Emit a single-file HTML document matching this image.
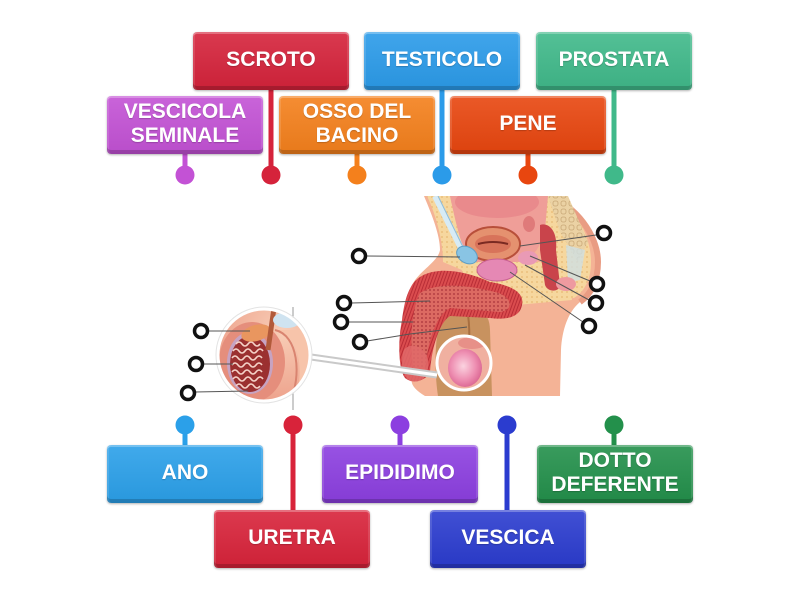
<!DOCTYPE html>
<html><head><meta charset="utf-8">
<style>
html,body{margin:0;padding:0;background:#fff;}
#c{position:relative;width:800px;height:600px;overflow:hidden;background:#fff;}
svg{position:absolute;left:0;top:0;}
.b{position:absolute;width:156px;height:58px;border-radius:4px;color:#fff;
font-family:"Liberation Sans",sans-serif;font-weight:bold;font-size:21px;line-height:24px;
display:flex;align-items:center;justify-content:center;text-align:center;box-sizing:border-box;padding-bottom:3px;
background-image:linear-gradient(rgba(255,255,255,.10),rgba(0,0,0,.05));
box-shadow:inset 0 -4px 0 rgba(0,0,0,.18),inset 0 2px 0 rgba(255,255,255,.28),inset 2px 0 0 rgba(255,255,255,.12),inset -2px 0 0 rgba(255,255,255,.12),0 1px 2px rgba(0,0,0,.3);
text-shadow:0 1px 1px rgba(0,0,0,.2);}
</style></head><body><div id="c">
<svg width="800" height="600" viewBox="0 0 800 600">
<defs>
<pattern id="fat" width="5" height="5" patternUnits="userSpaceOnUse"><rect width="5" height="5" fill="#f6d79e"/><circle cx="2" cy="2" r="0.9" fill="#e7b873"/></pattern>
<pattern id="spg" width="4" height="4" patternUnits="userSpaceOnUse"><rect width="4" height="4" fill="#dc6a62"/><circle cx="2" cy="2" r="0.9" fill="#a8323a"/></pattern>
<pattern id="str" width="3" height="6" patternUnits="userSpaceOnUse" patternTransform="rotate(20)"><rect width="3" height="6" fill="#da4c4e"/><rect width="1" height="6" fill="#b82d36"/></pattern>
<pattern id="spn" width="8" height="8" patternUnits="userSpaceOnUse"><rect width="8" height="8" fill="#ebd2a4"/><rect x="1" y="1" width="5" height="5" rx="2" fill="none" stroke="#c9a877" stroke-width="0.8"/></pattern>
<radialGradient id="tg" cx="45%" cy="45%" r="60%"><stop offset="0" stop-color="#fbd3e0"/><stop offset="0.6" stop-color="#ee8fb2"/><stop offset="1" stop-color="#d9628f"/></radialGradient>
<radialGradient id="ig" cx="70%" cy="25%" r="80%"><stop offset="0" stop-color="#f8cdb6"/><stop offset="1" stop-color="#eda08a"/></radialGradient>
<clipPath id="bc"><rect x="395" y="196" width="230" height="200"/></clipPath>
<clipPath id="icp"><circle cx="264" cy="355" r="46"/></clipPath>
<clipPath id="tcp"><circle cx="464" cy="363" r="27"/></clipPath>
</defs>

<!-- stems top -->
<g stroke-width="5">
<line x1="271" y1="88" x2="271" y2="175" stroke="#d5233b"/>
<line x1="442" y1="88" x2="442" y2="175" stroke="#2b9be9"/>
<line x1="614" y1="88" x2="614" y2="175" stroke="#40b98a"/>
<line x1="185" y1="152" x2="185" y2="175" stroke="#c352d5"/>
<line x1="357" y1="152" x2="357" y2="175" stroke="#f4801c"/>
<line x1="528" y1="152" x2="528" y2="175" stroke="#e8460f"/>
<line x1="185" y1="425" x2="185" y2="447" stroke="#2ba0e9"/>
<line x1="293" y1="425" x2="293" y2="512" stroke="#d8233a"/>
<line x1="400" y1="425" x2="400" y2="447" stroke="#8c3fe0"/>
<line x1="507" y1="425" x2="507" y2="512" stroke="#2b3ccf"/>
<line x1="614" y1="425" x2="614" y2="447" stroke="#23904b"/>
</g>
<g>
<circle cx="185" cy="175" r="9.5" fill="#c352d5"/>
<circle cx="271" cy="175" r="9.5" fill="#d5233b"/>
<circle cx="357" cy="175" r="9.5" fill="#f4801c"/>
<circle cx="442" cy="175" r="9.5" fill="#2b9be9"/>
<circle cx="528" cy="175" r="9.5" fill="#e8460f"/>
<circle cx="614" cy="175" r="9.5" fill="#40b98a"/>
<circle cx="185" cy="425" r="9.5" fill="#2ba0e9"/>
<circle cx="293" cy="425" r="9.5" fill="#d8233a"/>
<circle cx="400" cy="425" r="9.5" fill="#8c3fe0"/>
<circle cx="507" cy="425" r="9.5" fill="#2b3ccf"/>
<circle cx="614" cy="425" r="9.5" fill="#23904b"/>
</g>

<!-- body -->
<g clip-path="url(#bc)">
<path d="M424,196 L548,196 C575,205 598,235 598,262 C598,282 590,295 580,302 C568,312 562,330 561,350 L560,396 L425,396 C415,390 410,384 412,378 C402,372 399,360 402,345 C403,320 405,300 412,285 C420,270 438,262 440,250 C440,235 432,215 424,196 Z" fill="#f4b396"/>
<path d="M548,196 C575,205 598,235 598,262 C598,282 590,295 580,302" fill="none" stroke="#e99c83" stroke-width="6"/>
<path d="M540,196 L552,196 C575,208 591,235 591,262 C591,280 584,292 574,298 L545,300 Z" fill="url(#fat)"/>
<path d="M427,196 L450,196 L472,248 L462,270 L443,262 C443,240 436,215 427,196 Z" fill="url(#fat)"/>
<path d="M458,262 L565,262 L572,300 L505,306 L470,288 Z" fill="url(#fat)"/>
<path d="M450,196 L548,196 L545,230 C540,250 530,262 515,262 L470,262 C462,250 455,220 450,196 Z" fill="#ef9e98"/>
<ellipse cx="497" cy="202" rx="42" ry="16" fill="#e98a8c"/>
<path d="M548,196 L568,196 L588,242 L578,262 L560,232 Z" fill="url(#spn)"/>
<path d="M566,245 L585,250 L580,280 L568,282 Z" fill="#cfe0e2" opacity="0.8"/>
<line x1="435" y1="196" x2="461" y2="248" stroke="#d7ebf5" stroke-width="6"/>
<line x1="438" y1="196" x2="463" y2="247" stroke="#8fbcd8" stroke-width="1"/>
<ellipse cx="493" cy="244" rx="27" ry="17" fill="#e5916f" stroke="#b84f3a" stroke-width="2"/>
<ellipse cx="493" cy="244" rx="18" ry="9" fill="#d8735a"/>
<path d="M478,244 Q493,240 508,244" stroke="#7a2a22" stroke-width="2" fill="none"/>
<ellipse cx="467" cy="255" rx="11" ry="8" transform="rotate(30 467 255)" fill="#89c4e4" stroke="#5f9fc6" stroke-width="1"/>
<ellipse cx="529" cy="224" rx="6" ry="8" fill="#df7a7a"/>
<ellipse cx="528" cy="258" rx="10" ry="7" fill="#e99ab5"/>
<path d="M540,225 C548,222 558,230 556,250 L560,285 C560,292 548,293 545,285 L540,250 Z" fill="#c9444b"/>
<ellipse cx="566" cy="284" rx="10" ry="7" fill="#ee9aa0"/>
<ellipse cx="497" cy="270" rx="20" ry="11" fill="#e588b4" stroke="#c85f90" stroke-width="1"/>
<path d="M445,302 C470,297 490,308 490,330 L492,396 L438,396 C434,370 434,330 445,302 Z" fill="#c8925f"/>
<path d="M466,305 C470,320 470,340 468,355" stroke="#a86f40" stroke-width="2" fill="none"/>
<path d="M412,285 C425,265 460,268 490,282 C510,285 525,292 522,305 C520,318 505,320 490,318 L450,316 C440,322 432,345 430,372 C425,382 412,384 405,378 C398,368 398,340 402,320 C404,305 406,295 412,285 Z" fill="url(#str)"/>
<path d="M420,293 C440,281 470,286 495,292 C512,296 515,310 500,312 L450,308 C435,315 427,345 425,372 L414,374 C410,350 410,312 420,293 Z" fill="url(#spg)"/>
<path d="M404,350 C410,342 424,345 428,360 C430,375 422,384 410,381 C402,376 400,360 404,350 Z" fill="#e06a6a" opacity="0.85"/>
<circle cx="464" cy="363" r="27" fill="#f0b0a0"/>
<g clip-path="url(#tcp)">
<ellipse cx="472" cy="343" rx="14" ry="6" fill="#e79088"/>
<ellipse cx="465" cy="368" rx="17" ry="19" fill="url(#tg)"/>
</g>
<circle cx="464" cy="363" r="27" fill="none" stroke="#fff" stroke-width="3"/>
</g>

<!-- zoom band -->
<line x1="311" y1="357" x2="437" y2="375" stroke="#c9c9c9" stroke-width="7"/>
<line x1="311" y1="357" x2="437" y2="375" stroke="#fff" stroke-width="3"/>
<line x1="293" y1="307" x2="293" y2="410" stroke="#999" stroke-width="1"/>

<!-- inset -->
<circle cx="264" cy="355" r="46" fill="url(#ig)"/>
<g clip-path="url(#icp)">
<path d="M270,330 C300,330 305,370 295,400 L320,400 L320,330 Z" fill="#f7c4aa"/>
<path d="M275,330 C298,335 302,375 290,402" stroke="#d98470" stroke-width="2" fill="none"/>
<ellipse cx="252" cy="362" rx="33" ry="40" fill="#e58e7c"/>
<ellipse cx="250" cy="363" rx="23" ry="31" fill="#c7a3c2"/>
<ellipse cx="250" cy="364" rx="20" ry="28" fill="#9b3030"/>
<g stroke="#f5d2c8" stroke-width="1.6" fill="none">
<path d="M236,344 q3,-4 6,0 t6,0 t6,0 t6,0"/>
<path d="M233,351 q3,-4 6,0 t6,0 t6,0 t6,0 t6,0"/>
<path d="M232,358 q3,-4 6,0 t6,0 t6,0 t6,0 t6,0"/>
<path d="M232,365 q3,-4 6,0 t6,0 t6,0 t6,0 t6,0"/>
<path d="M232,372 q3,-4 6,0 t6,0 t6,0 t6,0 t6,0"/>
<path d="M233,379 q3,-4 6,0 t6,0 t6,0 t6,0 t6,0"/>
<path d="M236,386 q3,-4 6,0 t6,0 t6,0 t6,0"/>
</g>
<ellipse cx="256" cy="333" rx="15" ry="8" transform="rotate(-15 256 333)" fill="#e9965f"/>
<line x1="268" y1="350" x2="274" y2="308" stroke="#b25a3a" stroke-width="5"/>
<ellipse cx="287" cy="320" rx="14" ry="8" fill="#cfe3f0"/>
</g>
<circle cx="264" cy="355" r="46" fill="none" stroke="#fff" stroke-width="3"/>
<circle cx="264" cy="355" r="48" fill="none" stroke="#e3e3e3" stroke-width="1"/>

<!-- leader lines -->
<g stroke="#555" stroke-width="1" fill="none">
<line x1="366" y1="256" x2="460" y2="257"/>
<line x1="351" y1="303" x2="430" y2="301"/>
<line x1="348" y1="322" x2="413" y2="322"/>
<polyline points="367,341 410,334 467,327"/>
<line x1="596" y1="235" x2="520" y2="246"/>
<line x1="590" y1="281" x2="530" y2="256"/>
<line x1="589" y1="300" x2="525" y2="265"/>
<line x1="583" y1="322" x2="510" y2="272"/>
<line x1="208" y1="331" x2="250" y2="331"/>
<line x1="203" y1="364" x2="233" y2="364"/>
<line x1="195" y1="392" x2="248" y2="391"/>
</g>
<g fill="#fff" stroke="#111" stroke-width="3.5">
<circle cx="359" cy="256" r="6.5"/>
<circle cx="344" cy="303" r="6.5"/>
<circle cx="341" cy="322" r="6.5"/>
<circle cx="360" cy="342" r="6.5"/>
<circle cx="604" cy="233" r="6.5"/>
<circle cx="597" cy="284" r="6.5"/>
<circle cx="596" cy="303" r="6.5"/>
<circle cx="589" cy="326" r="6.5"/>
<circle cx="201" cy="331" r="6.5"/>
<circle cx="196" cy="364" r="6.5"/>
<circle cx="188" cy="393" r="6.5"/>
</g>
</svg>

<div class="b" style="left:193px;top:32px;background-color:#d5233b">SCROTO</div>
<div class="b" style="left:364px;top:32px;background-color:#2b9be9">TESTICOLO</div>
<div class="b" style="left:536px;top:32px;background-color:#40b98a">PROSTATA</div>
<div class="b" style="left:107px;top:96px;background-color:#c352d5">VESCICOLA<br>SEMINALE</div>
<div class="b" style="left:279px;top:96px;background-color:#f4801c">OSSO DEL<br>BACINO</div>
<div class="b" style="left:450px;top:96px;background-color:#e8460f">PENE</div>
<div class="b" style="left:107px;top:445px;background-color:#2ba0e9">ANO</div>
<div class="b" style="left:322px;top:445px;background-color:#8c3fe0">EPIDIDIMO</div>
<div class="b" style="left:537px;top:445px;background-color:#23904b">DOTTO<br>DEFERENTE</div>
<div class="b" style="left:214px;top:510px;background-color:#d8233a">URETRA</div>
<div class="b" style="left:430px;top:510px;background-color:#2b3ccf">VESCICA</div>
</div></body></html>
